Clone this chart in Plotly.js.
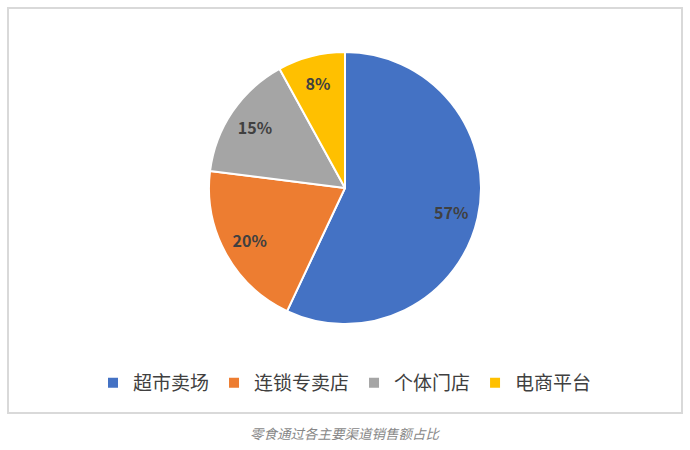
<!DOCTYPE html>
<html>
<head>
<meta charset="utf-8">
<script src="https://cdn.plot.ly/plotly-3.0.1.min.js"></script>
<style>
  html, body { margin: 0; padding: 0; background: #fff; }
  #chart { width: 690px; height: 450px; }
</style>
</head>
<body>
<div id="chart"></div>
<script>
// 零食各渠道销售额占比
const channels = ["超市卖场", "连锁专卖店", "个体门店", "电商平台"];
const shares = [57, 20, 15, 8];
const shareLabels = ["57%", "20%", "15%", "8%"];
const sliceColors = ["#4472C4", "#ED7D31", "#A5A5A5", "#FFC000"];
const caption = "零食通过各主要渠道销售额占比";

const W = 690, H = 450;
const px = (x) => x / W;
const py = (y) => 1 - y / H;

const cjk = '"Noto Sans CJK SC", "Noto Sans", sans-serif';
const pieDomain = { x: [px(209), px(481)], y: [py(324), py(52)] };

// the coloured slices
const pieTrace = {
    type: 'pie',
    labels: channels,
    values: shares,
    textinfo: 'none',
    sort: false,
    direction: 'clockwise',
    rotation: 0,
    marker: {
        colors: sliceColors,
        line: { color: '#ffffff', width: 2 }
    },
    domain: pieDomain,
    hoverinfo: 'label+percent'
};

// transparent ring on top, only to push the % labels out to ~0.8 of the radius
const labelTrace = {
    type: 'pie',
    labels: channels,
    values: shares,
    text: shareLabels,
    textinfo: 'text',
    textposition: 'inside',
    insidetextorientation: 'horizontal',
    hole: 0.6,
    sort: false,
    direction: 'clockwise',
    rotation: 0,
    showlegend: false,
    marker: {
        colors: ['rgba(0,0,0,0)', 'rgba(0,0,0,0)', 'rgba(0,0,0,0)', 'rgba(0,0,0,0)'],
        line: { width: 0 }
    },
    textfont: { family: cjk, size: 16, color: '#404040', weight: 'bold' },
    domain: pieDomain,
    hoverinfo: 'skip'
};

const layout = {
    width: W,
    height: H,
    margin: { l: 0, r: 0, t: 0, b: 0 },
    paper_bgcolor: '#ffffff',
    showlegend: true,
    legend: {
        orientation: 'h',
        x: 0.5,
        xanchor: 'center',
        y: py(383),
        yanchor: 'middle',
        font: { family: cjk, size: 19, color: '#404040' },
        traceorder: 'normal',
        itemclick: false
    },
    shapes: [{
        type: 'rect',
        xref: 'paper', yref: 'paper',
        x0: px(8), x1: px(682),
        y0: py(413), y1: py(8),
        line: { color: '#d9d9d9', width: 2 },
        fillcolor: 'rgba(0,0,0,0)'
    }],
    annotations: [{
        xref: 'paper', yref: 'paper',
        x: 0.5, y: py(433),
        xanchor: 'center', yanchor: 'middle',
        showarrow: false,
        text: '<i>' + caption + '</i>',
        font: { family: cjk, size: 13.5, color: '#888888' }
    }]
};

Plotly.newPlot('chart', [pieTrace, labelTrace], layout, { displayModeBar: false, staticPlot: true });
</script>
</body>
</html>
